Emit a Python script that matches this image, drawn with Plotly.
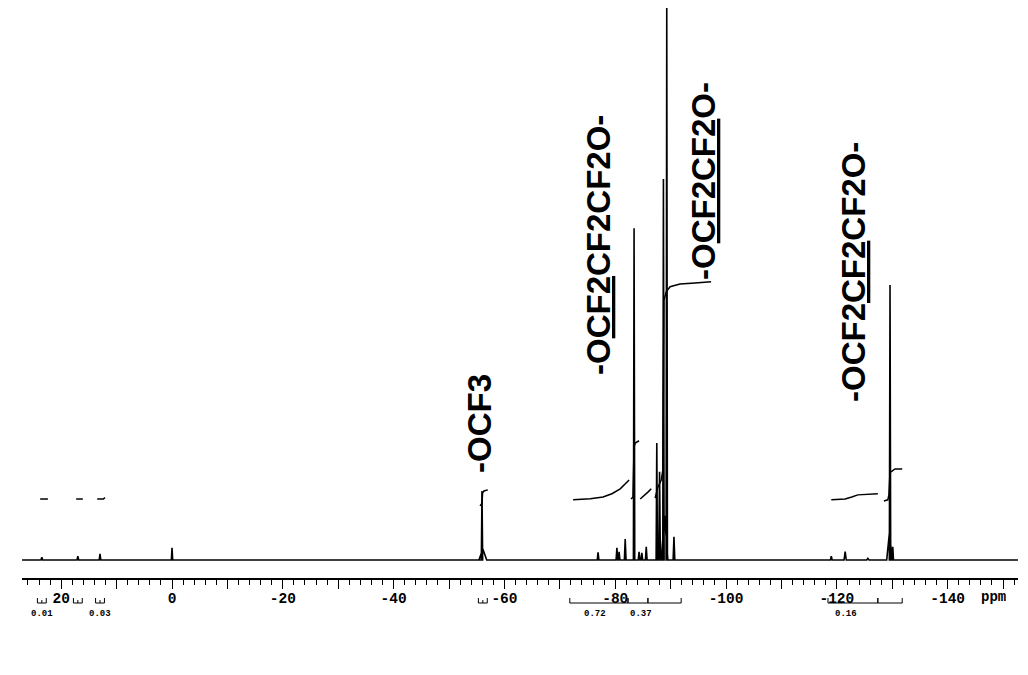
import plotly.graph_objects as go

# ── Spectrum data ─────────────────────────────────────────────────────────────
# chemical shift (ppm), relative intensity, half width at base (ppm)
peak_ppm = [23.5, 17.0, 13.0, 0.0,
            -55.95, -56.1,
            -76.9, -80.3, -80.7, -81.8, -83.4, -84.3, -84.8, -85.6,
            -87.5, -88.0, -88.7, -89.3, -88.9, -90.6,
            -119.0, -121.5, -125.6, -129.5, -129.6, -130.1]
peak_int = [0.5, 0.7, 1.1, 2.2,
            12.5, 2.0,
            1.4, 2.2, 1.5, 3.8, 60.1, 1.5, 1.3, 2.4,
            21.2, 16.0, 69.0, 100.0, 8.0, 4.2,
            0.7, 1.5, 0.3, 5.0, 49.8, 2.4]
peak_hw = [0.15, 0.15, 0.15, 0.12,
           0.12, 0.7,
           0.15, 0.15, 0.15, 0.15, 0.12, 0.15, 0.15, 0.15,
           0.12, 0.15, 0.12, 0.12, 0.6, 0.15,
           0.15, 0.2, 0.2, 0.5, 0.12, 0.12]

# integral traces: (ppm list, level list)
integrals = [
    ([23.8, 22.4], [11.05, 11.05]),
    ([17.3, 16.1], [11.05, 11.05]),
    ([13.5, 12.4, 12.1], [11.05, 11.05, 11.3]),
    ([-55.6, -55.96, -56.05, -56.3, -57.0], [9.8, 10.3, 12.1, 12.5, 12.7]),
    ([-72.4, -75.5, -77.8, -79.4, -80.9, -81.9, -82.5],
     [10.9, 11.1, 11.4, 12.0, 12.9, 13.8, 14.5]),
    ([-82.85, -83.2, -83.4, -83.6, -84.3], [11.05, 11.4, 20.5, 21.2, 21.6]),
    ([-84.5, -85.2, -85.9, -86.5], [11.05, 11.6, 12.3, 12.9]),
    ([-87.2, -87.7, -88.3, -88.6, -88.8, -89.2, -89.9, -91.7, -94.4, -97.3],
     [11.2, 13.2, 14.5, 16.3, 47.1, 48.6, 49.5, 50.0, 50.2, 50.4]),
    ([-119.0, -121.5, -122.7, -123.8, -127.4], [10.9, 11.05, 11.4, 11.8, 12.0]),
    ([-128.5, -129.2, -129.4, -129.6, -129.96, -130.5, -131.8],
     [10.7, 10.9, 11.8, 15.9, 16.1, 16.5, 16.5]),
]

# integration regions below the axis
small_regions = [23.5, 17.0, 13.0, -56.1]
long_regions = [(-71.8, -82.3), (-82.3, -85.9), (-85.9, -91.9),
                (-118.4, -127.4), (-127.4, -131.8)]
integral_ppm = [23.5, 13.0, -76.4, -84.6, -121.7]
integral_txt = ["0.01", "0.03", "0.72", "0.37", "0.16"]

tick_vals = list(range(20, -151, -10))
tick_text = [str(v) if v % 20 == 0 else "" for v in tick_vals]

labels = [
    ("-OCF3", 479, 424),
    ("-O<u>CF2</u>CF2CF2O-", 598, 245),
    ("-O<u>CF2CF2</u>O-", 704, 181),
    ("-OCF2<u>CF2</u>CF2O-", 853, 272),
]

X_RANGE = [27.08, -152.7]
Y_RANGE = [-3.26, 100.54]
W, H = 1028, 675
ML, MR, MT, MB = 22, 10, 5, 97


def px_to_paper(x, y):
    return (x - ML) / (W - ML - MR), 1 - (y - MT) / (H - MT - MB)


# ── Build figure ──────────────────────────────────────────────────────────────
fig = go.Figure()

order = sorted(range(len(peak_ppm)), key=lambda i: -peak_ppm[i])
sx, sy = [X_RANGE[0]], [0]
for i in order:
    c, h, w = peak_ppm[i], peak_int[i], peak_hw[i]
    sx += [c + w, c, c - w]
    sy += [0, h, 0]
sx.append(X_RANGE[1])
sy.append(0)
fig.add_trace(go.Scatter(x=sx, y=sy, mode="lines",
                         line=dict(color="black", width=1.6), hoverinfo="skip"))

for ix, iy in integrals:
    fig.add_trace(go.Scatter(x=ix, y=iy, mode="lines",
                             line=dict(color="black", width=1.5), hoverinfo="skip"))

# integration brackets (below axis, paper coords for y)
yb_top = px_to_paper(0, 598)[1]
yb_bot = px_to_paper(0, 603)[1]
for c in small_regions:
    fig.add_shape(type="path", xref="x", yref="paper",
                  path=f"M {c+0.8},{yb_top} L {c+0.8},{yb_bot} L {c-0.8},{yb_bot} L {c-0.8},{yb_top}",
                  line=dict(color="black", width=1))
    fig.add_shape(type="line", xref="x", yref="paper", x0=c, x1=c,
                  y0=yb_bot, y1=px_to_paper(0, 600)[1], line=dict(color="black", width=1))
for a, b in long_regions:
    fig.add_shape(type="path", xref="x", yref="paper",
                  path=f"M {a},{yb_top} L {a},{yb_bot} L {b},{yb_bot} L {b},{yb_top}",
                  line=dict(color="black", width=1))

for c, t in zip(integral_ppm, integral_txt):
    fig.add_annotation(x=c, y=px_to_paper(0, 614)[1], xref="x", yref="paper",
                       text=t, showarrow=False, xanchor="center", yanchor="middle",
                       font=dict(family="Liberation Mono", size=9, color="black", weight="bold"))

fig.add_annotation(x=px_to_paper(993, 0)[0], y=px_to_paper(0, 597)[1],
                   xref="paper", yref="paper", text="ppm", showarrow=False,
                   xanchor="center", yanchor="middle",
                   font=dict(family="Liberation Mono", size=14, color="black", weight="bold"))

for txt, lx, ly in labels:
    px, py = px_to_paper(lx, ly)
    fig.add_annotation(x=px, y=py, xref="paper", yref="paper", text=txt,
                       textangle=-90, showarrow=False,
                       xanchor="center", yanchor="middle",
                       font=dict(family="Liberation Sans", size=33, color="black", weight="bold"))

fig.update_layout(
    width=W, height=H,
    margin=dict(l=ML, r=MR, t=MT, b=MB),
    paper_bgcolor="white", plot_bgcolor="white",
    showlegend=False,
    xaxis=dict(range=X_RANGE, showgrid=False, zeroline=False,
               showline=True, linecolor="black", linewidth=1.5,
               tickmode="array", tickvals=tick_vals, ticktext=tick_text,
               ticks="outside", ticklen=9, tickwidth=1.3, tickcolor="black",
               ticklabelstandoff=-3,
               tickfont=dict(family="Liberation Mono", size=14.5, color="black", weight="bold"),
               minor=dict(tickmode="linear", tick0=0, dtick=2, ticks="outside",
                          ticklen=5, tickwidth=1, tickcolor="black")),
    yaxis=dict(range=Y_RANGE, visible=False, showgrid=False, zeroline=False),
)

# drop the browser's default body margin so the figure sits at the page corner
fig.write_html("out.html", config={"displayModeBar": False},
               post_script="document.body.style.margin='0';")
